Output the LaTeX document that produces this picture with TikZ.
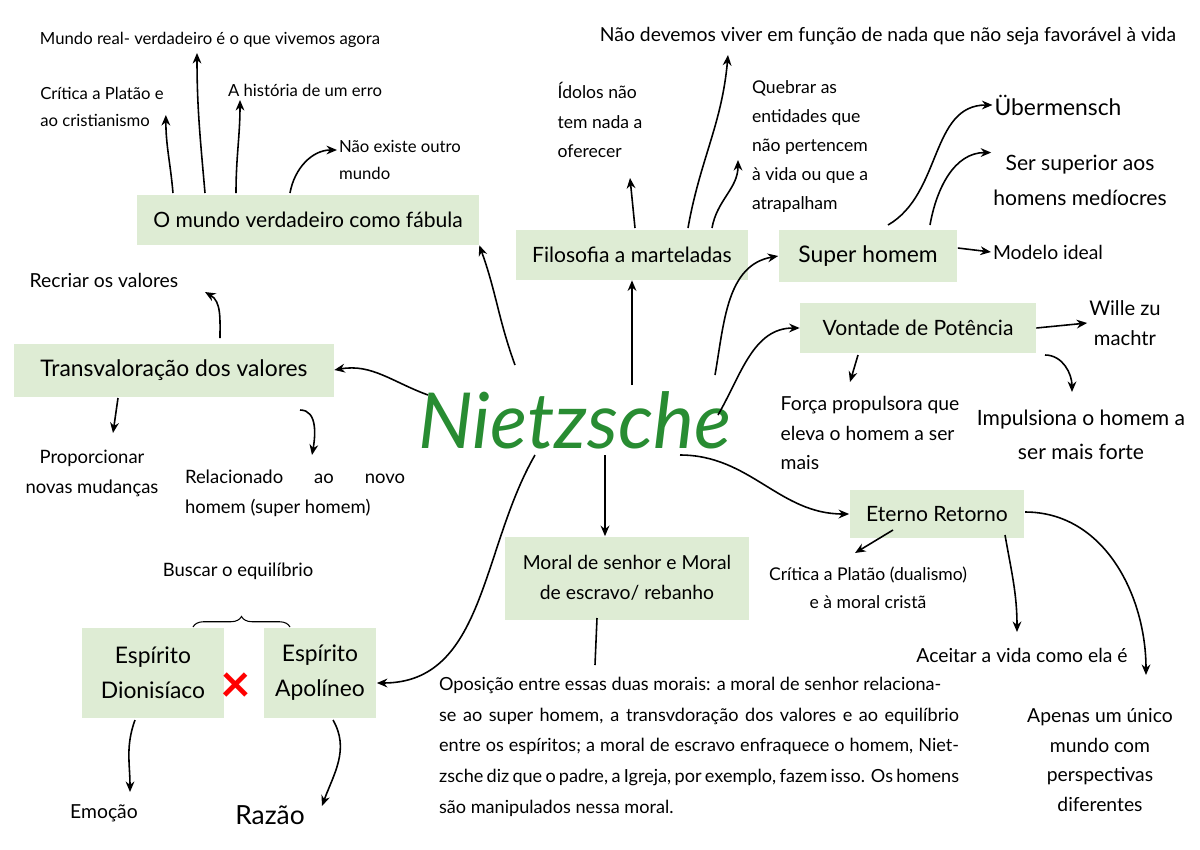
\documentclass[tikz,border=0pt]{standalone}
\usepackage{fontspec}
\setmainfont{Lato}
\usetikzlibrary{arrows.meta,decorations.pathreplacing}
\definecolor{boxg}{RGB}{222,236,212}
\definecolor{ngreen}{RGB}{40,140,50}
\tikzset{
 gbox/.style={fill=boxg,inner sep=0pt,minimum height=1cm,font=\fontsize{12}{15}\selectfont,align=center},
 txt/.style={font=\fontsize{9.5}{15}\selectfont,align=center,inner sep=1pt},
 txtl/.style={txt,align=left},
 arr/.style={-{Stealth[length=6pt,width=5pt]},line width=0.9pt},
 ln/.style={line width=0.9pt}
}
\begin{document}
\begin{tikzpicture}[x=0.02cm,y=-0.02cm]
\useasboundingbox (0,0) rectangle (1200,849);
% boxes
\node[gbox,minimum width=6.84cm] (mundo) at (308,220) {O mundo verdadeiro como fábula};
\node[gbox,minimum width=6.4cm,minimum height=1.06cm,font=\fontsize{13}{15}\selectfont] (transv) at (174,370) {Transvaloração dos valores};
\node[gbox,minimum width=4.64cm] (filos) at (632,255) {Filosofia a marteladas};
\node[gbox,minimum width=3.58cm,minimum height=1.04cm,font=\fontsize{13}{15}\selectfont] (super) at (868,256) {Super homem};
\node[gbox,minimum width=4.72cm] (vont) at (918,328) {Vontade de Potência};
\node[gbox,minimum width=3.5cm,minimum height=0.96cm] (eterno) at (937,514) {Eterno Retorno};
\node[gbox,minimum width=4.9cm,minimum height=1.66cm,font=\fontsize{11}{17}\selectfont] (moral) at (627,578) {Moral de senhor e Moral\\de escravo/ rebanho};
\node[gbox,minimum width=2.84cm,minimum height=1.8cm,font=\fontsize{13}{20}\selectfont] (dion) at (153,673) {Espírito\\Dionisíaco};
\node[gbox,minimum width=2.26cm,minimum height=1.8cm,font=\fontsize{13}{20}\selectfont] (apol) at (320,673) {Espírito\\Apolíneo};
\node[text=ngreen,font=\fontsize{44}{44}\selectfont\itshape] (N) at (575,420) {Nietzsche};
\node[text=red,font=\fontsize{30}{30}\selectfont\bfseries] (x) at (236,688) {\texttimes};
% texts
\node[txt] (t1) at (210,40) {Mundo real- verdadeiro é o que vivemos agora};
\node[txtl] (t2) at (102,107) {Crítica a Platão e\\ao cristianismo};
\node[txt] (t3) at (305,90) {A história de um erro};
\node[txtl] (t4) at (400,160) {Não existe outro\\mundo};
\node[txt,font=\fontsize{11}{15}\selectfont] (t5) at (104,280) {Recriar os valores};
\node[txt,font=\fontsize{10.5}{17}\selectfont] (t6) at (92,473) {Proporcionar\\novas mudanças};
\node[txt,font=\fontsize{10.5}{17}\selectfont,text width=4.4cm,align=justify] (t7) at (295,493) {Relacionado ao novo homem (super homem)};
\node[txt,font=\fontsize{10.5}{15}\selectfont] (t8) at (238,571) {Buscar o equilíbrio};
\draw[decorate,decoration={brace,amplitude=6pt},ln,line width=0.6pt] (193,627) -- (290,627);
\node[txt,font=\fontsize{11}{15}\selectfont] (emo) at (104,813) {Emoção};
\node[txt,font=\fontsize{15}{15}\selectfont] (raz) at (270,815) {Razão};
\node[txt,font=\fontsize{10.3}{17.5}\selectfont,text width=10.4cm,align=justify,anchor=north west] (par) at (437,675) {Oposição entre essas duas morais: a moral de senhor relaciona-\\se ao super homem, a transvdoração dos valores e ao equilíbrio entre os espíritos; a moral de escravo enfraquece o homem, Nietzsche diz que o padre, a Igreja, por exemplo, fazem isso. Os homens são manipulados nessa moral.};
\node[txtl,font=\fontsize{10}{17}\selectfont] (t9) at (600,120) {Ídolos não\\tem nada a\\oferecer};
\node[txt,font=\fontsize{11}{15}\selectfont] (t10) at (888,36) {Não devemos viver em função de nada que não seja favorável à vida};
\node[txtl,font=\fontsize{10}{16.5}\selectfont] (t11) at (810,147) {Quebrar as\\entidades que\\não pertencem\\à vida ou que a\\atrapalham};
\node[txt,font=\fontsize{13}{15}\selectfont] (ub) at (1058,105) {Übermensch};
\node[txt,font=\fontsize{12}{20}\selectfont] (ss) at (1080,180) {Ser superior aos\\homens medíocres};
\node[txt,font=\fontsize{11}{15}\selectfont] (mi) at (1048,252) {Modelo ideal};
\node[txt,font=\fontsize{11.5}{17}\selectfont] (wz) at (1125,323) {Wille zu\\machtr};
\node[txtl,font=\fontsize{11}{17}\selectfont] (fp) at (870,433) {Força propulsora que\\eleva o homem a ser\\mais};
\node[txt,font=\fontsize{12}{19}\selectfont] (im) at (1081,435) {Impulsiona o homem a\\ser mais forte};
\node[txt,font=\fontsize{10}{16}\selectfont] (cp) at (868,588) {Crítica a Platão (dualismo)\\e à moral cristã};
\node[txt,font=\fontsize{11}{15}\selectfont] (ac) at (1022,655) {Aceitar a vida como ela é};
\node[txt,font=\fontsize{11}{17}\selectfont] (ap) at (1100,760) {Apenas um único\\mundo com\\perspectivas\\diferentes};
% connectors
\draw[arr] (515,365) to[out=110,in=-70] (mundo.south east);
\draw[arr] (428,395) to[out=160,in=10] (transv.east);
\draw[arr] (632,385) -- (filos.south);
\draw[arr] (715,375) to[out=80,in=190] (super.west);
\draw[arr] (718,415) to[out=60,in=180] (vont.west);
\draw[arr] (680,455) to[out=0,in=180] (eterno.west);
\draw[arr] (605,455) -- (moral.north -| 605,0);
\draw[arr] (535,455) to[out=240,in=0] (apol.east |- 0,683);
\draw[arr] (173,193) to[out=95,in=-90] (t2.south east |- 0,115);
\draw[arr] (205,193) to[out=95,in=-90] (197,53);
\draw[arr] (236,193) to[out=90,in=-90] (240,100);
\draw[arr] (290,193) to[out=80,in=180] (t4.west |- 0,150);
\draw[arr] (220,338) to[out=90,in=-30] (205,292);
\draw[arr] (118,398) -- (113,433);
\draw[arr] (300,410) to[out=0,in=80] (312,455);
\draw[arr] (635,228) -- (630,178);
\draw[arr] (688,228) to[out=80,in=-95] (728,55);
\draw[arr] (712,228) to[out=80,in=-90] (738,160);
\draw[arr] (888,225) to[out=30,in=180] (ub.west);
\draw[arr] (930,225) to[out=80,in=180] (ss.north west);
\draw[arr] (super.east |- 0,248) -- (mi.west);
\draw[arr] (vont.east) -- (wz.west);
\draw[arr] (1045,355) to[out=0,in=90] (1072,392);
\draw[arr] (858,355) -- (850,382);
\draw[arr] (893,530) -- (855,553);
\draw[arr] (1005,535) to[out=-80,in=90] (1017,632);
\draw[arr] (1025,512) to[out=0,in=90] (1146,675);
\draw[ln] (597,618) -- (595,665);
\draw[arr] (135,720) to[out=-110,in=90] (130,792);
\draw[arr] (333,720) to[out=-60,in=70] (322,806);
\end{tikzpicture}
\end{document}
